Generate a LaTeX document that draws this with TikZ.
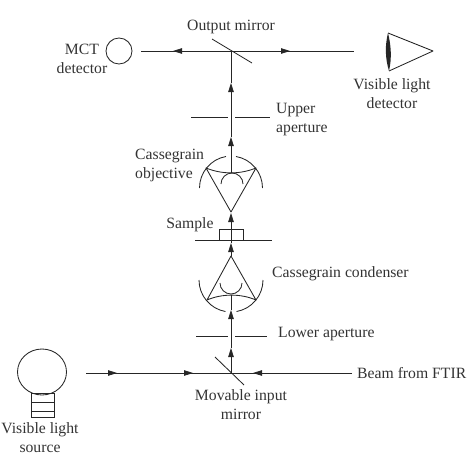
\documentclass[tikz,border=0pt]{standalone}
\usepackage{fontspec}
\setmainfont{Liberation Serif}
\usetikzlibrary{arrows.meta,shapes.geometric}
\tikzset{
  optic/.style={draw=black!85,line width=0.85pt},
  beam/.style={optic,-{Triangle[length=9pt,width=5.5pt]}},
  lab/.style={font=\fontsize{15.7}{19}\selectfont,text=black!80,inner sep=0pt},
  labl/.style={lab,anchor=west},
}
\begin{document}
\begin{tikzpicture}[x=1pt,y=-1pt]
\useasboundingbox (0,0) rectangle (474,474);
% named points of the optical path
\coordinate (topL) at (141,51);
\coordinate (topR) at (354,51);
\coordinate (outM) at (231,51);
\coordinate (tipL) at (173,51);
\coordinate (tipR) at (290,51);
\coordinate (tipU) at (231,83);
\coordinate (tipO) at (231,137);
\coordinate (objTop) at (231,173);
\coordinate (objApex) at (231,212);
\coordinate (tipS) at (231,213);
\coordinate (tipC) at (231,243);
\coordinate (conApex) at (231,256);
\coordinate (conBot) at (231,295);
\coordinate (tipD) at (231,310);
\coordinate (inM) at (231,373);
\coordinate (tipI) at (231,348);
\coordinate (lowL) at (86,373);
\coordinate (lowR) at (352,373);
\coordinate (tipA) at (117,373);
\coordinate (tipB) at (193,373);
\coordinate (tipF) at (253,373);
% beams
\draw[optic] (topL) -- (topR);
\draw[beam] (outM) -- (tipL);
\draw[beam] (outM) -- (tipR);
\draw[beam] (tipO) -- (tipU);
\draw[optic] (tipU) -- (outM);
\draw[beam] (objTop) -- (tipO);
\draw[beam] (tipC) -- (tipS);
\draw[beam] (conApex) -- (tipC);
\draw[beam] (tipI) -- (tipD);
\draw[optic] (tipD) -- (conBot);
\draw[beam] (inM) -- (tipI);
\draw[optic] (lowL) -- (lowR);
\draw[beam] (lowL) -- (tipA);
\draw[beam] (tipA) -- (tipB);
\draw[beam] (lowR) -- (tipF);
% mirrors
\coordinate (om1) at (212,39); \coordinate (om2) at (252,63);
\draw[optic] (om1) -- (om2);
\coordinate (im1) at (215,357); \coordinate (im2) at (244,385);
\draw[optic] (im1) -- (im2);
% apertures
\draw[optic] (191,117) -- (228,117) (235,117) -- (270,117);
\draw[optic] (196,336) -- (228,336) (235,336) -- (267,336);
% sample
\draw[optic] (195,240) -- (225,240) (238,240) -- (272,240);
\draw[optic] (219,240) -- (219,229) -- (243,229) -- (243,240);
\draw[draw=black!85,line width=0.4pt] (225,240) -- (238,240);
% objective (the y axis points down, so arc angles run the other way)
\draw[optic] (199.5,188) arc[start angle=180,end angle=260,radius=32];
\draw[optic] (262.5,188) arc[start angle=0,end angle=-80,radius=32];
\draw[optic,line join=round] (231,212) -- (206,168) .. controls (222,174.5) and (240,174.5) .. (256,168) -- cycle;
\draw[optic] (221,184) arc[start angle=180,end angle=360,radius=11];
% condenser
\draw[optic] (199,280) arc[start angle=180,end angle=100,radius=32];
\draw[optic] (263,280) arc[start angle=0,end angle=80,radius=32];
\draw[optic,line join=round] (231,256) -- (207,300) .. controls (222,293.5) and (241,293.5) .. (256,300) -- cycle;
\draw[optic] (220,283) arc[start angle=180,end angle=0,radius=11];
% MCT detector
\node[optic,circle,minimum size=26pt,inner sep=0pt] (mct) at (119,51) {};
% eye
\coordinate (e1) at (388,33); \coordinate (e2) at (433,51); \coordinate (e3) at (389,71);
\draw[optic,line join=round] (e1) -- (e2) -- (e3);
\fill[black!85] (e1) .. controls (385,45) and (385,58) .. (e3) .. controls (392,58) and (391,45) .. (e1);
% bulb
\node[optic,ellipse,minimum width=49pt,minimum height=46pt,inner sep=0pt] (bulb) at (42,372) {};
\draw[optic] (31,393) rectangle (54,417) (31,402) -- (54,402) (31,411) -- (54,411);
% labels
\node[lab] (l1) at (231,27) {Output mirror};
\node[lab,align=center] (l2) at (82,59) {MCT\\detector};
\node[lab,align=center] (l3) at (392,94) {Visible light\\detector};
\node[labl,align=left] (l4) at (276,119.5) {Upper\\aperture};
\node[labl,align=left] (l5) at (135,165) {Cassegrain\\objective};
\node[lab] (l6) at (190,225) {Sample};
\node[labl] (l7) at (272,274) {Cassegrain condenser};
\node[labl] (l8) at (278,334) {Lower aperture};
\node[labl] (l9) at (357,373) {Beam from FTIR};
\node[lab,align=center] (l10) at (241,405) {Movable input\\mirror};
\node[lab,align=center] (l11) at (40,438) {Visible light\\source};
\end{tikzpicture}
\end{document}
